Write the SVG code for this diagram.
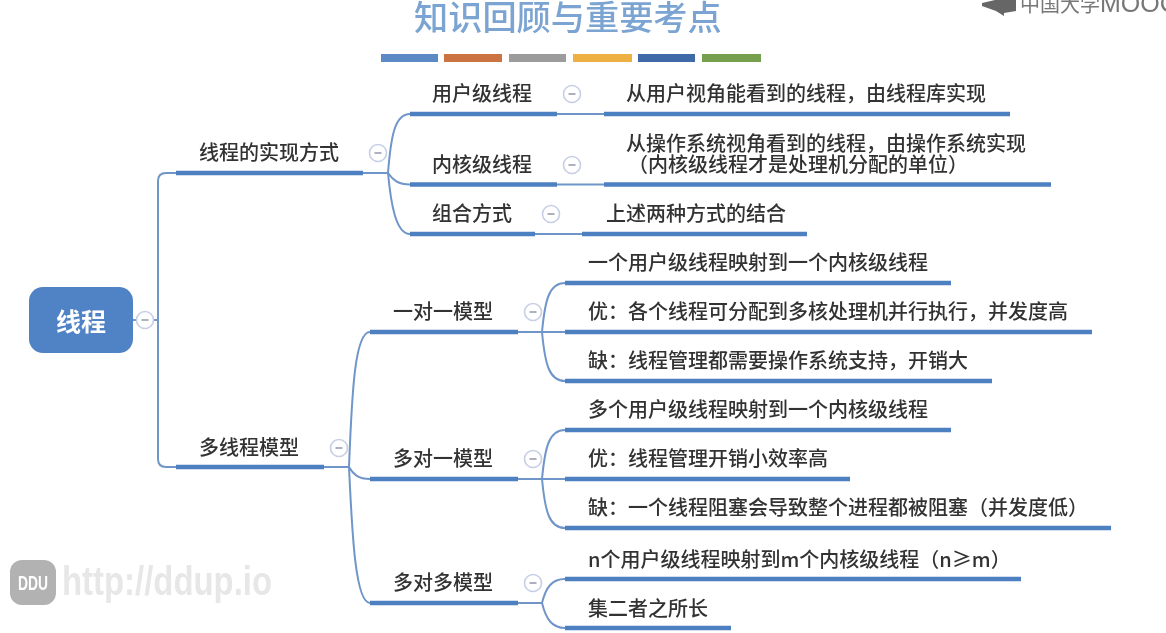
<svg xmlns="http://www.w3.org/2000/svg" width="1166" height="633" viewBox="0 0 1166 633">
<style>
text{font-family:"Noto Sans CJK SC","Liberation Sans",sans-serif;font-size:20px;fill:#333;font-weight:500}
.bar{fill:none;stroke:#4d80c0;stroke-width:4.5}
.line{fill:none;stroke:#6f96c9;stroke-width:2}
.btn circle{fill:#fff;stroke:#c6cfe6;stroke-width:1.6}
.btn line{stroke:#a4a9b8;stroke-width:1.8}
.hd{stroke-width:8;fill:none}
</style>
<defs>
<filter id="soft" x="-2%" y="-2%" width="104%" height="104%"><feGaussianBlur stdDeviation="0.55"/></filter>
<filter id="shadow" x="-10%" y="-100%" width="120%" height="300%"><feGaussianBlur stdDeviation="1"/></filter>
<g id="minus" class="btn"><circle r="8.5"/><line x1="-3.5" x2="3.5"/></g>
</defs>
<rect width="1166" height="633" fill="#fff"/>
<g filter="url(#soft)">
<g id="title">
<text x="414" y="30" style="font-size:34.2px;fill:#7ba4d2;font-weight:500">知识回顾与重要考点</text>
</g>
<g id="title-bars">
<path d="M381 60H438M444 60H502M509 60H566M573 60H632M638 60H695M702 60H761" fill="none" stroke="#bbb" stroke-width="8" filter="url(#shadow)"/>
<path class="hd" stroke="#5b8ac4" d="M381 58H438"/>
<path class="hd" stroke="#cc7343" d="M444 58H502"/>
<path class="hd" stroke="#9c9c9c" d="M509 58H566"/>
<path class="hd" stroke="#eeb043" d="M573 58H632"/>
<path class="hd" stroke="#3f69a8" d="M638 58H695"/>
<path class="hd" stroke="#76a04e" d="M702 58H761"/>
</g>
<g id="mooc-mark">
<path d="M982 3L995 0H1016V11L1004 13V16L996 11L982 6Z" fill="#666"/>
<text x="1020" y="12" style="font-size:20px;fill:#777;font-weight:400">中国大学<tspan style="font-size:25px;font-family:'Liberation Sans',sans-serif">MOOC</tspan></text>
</g>
<g id="watermark">
<rect x="10" y="560" width="46" height="45" rx="12" fill="#b2b2b2"/>
<text x="33" y="590" text-anchor="middle" textLength="30" lengthAdjust="spacingAndGlyphs" style="font-size:21px;fill:#fff;font-family:'Liberation Sans',sans-serif;font-weight:700">DDU</text>
<text x="62" y="595" textLength="210" lengthAdjust="spacingAndGlyphs" style="font-size:40px;fill:#e7e7e7;font-family:'Liberation Sans',sans-serif;font-weight:700">http://ddup.io</text>
</g>
<g id="connectors">
<path class="line" d="M133 320H158M158 320V181Q158 173 166 173H176M158 320V459Q158 467 166 467H176"/>
<path class="line" d="M363 173H388M388 173C391 135 395 114 410 114M388 173C393 180 398 184.500 410 184.500M388 173C391 205 396 234 410 234"/>
<path class="line" d="M557 114H604M557 184.500H604M535 234H582"/>
<path class="line" d="M324 467H349M349 467C352 390 355 332 370 332M349 467C353 474 358 479 370 479M349 467C352 530 355 603 370 603"/>
<path class="line" d="M518 332H565M542 332C545 300 549 283 565 283M542 332C545 364 549 381 565 381"/>
<path class="line" d="M518 479H565M542 479C545 447 549 430 565 430M542 479C545 511 549 528 565 528"/>
<path class="line" d="M518 603H542M542 603C546 587 552 579 565 579M542 603C546 619 552 628 565 628"/>
</g>
<g id="root"><rect x="29" y="287" width="104" height="66" rx="14" fill="#4f83c6"/><text x="81" y="331" text-anchor="middle" style="font-size:25px;fill:#fff;font-weight:700">线程</text><use href="#minus" x="145" y="320"/></g>
<g id="n-impl"><path class="bar" d="M176 173H363"/><text x="199" y="160">线程的实现方式</text><use href="#minus" x="378" y="153"/></g>
<g id="n-user"><path class="bar" d="M410 114H557"/><text x="432" y="101">用户级线程</text><use href="#minus" x="572" y="94"/></g>
<g id="n-user-d"><path class="bar" d="M604 114H1010"/><text x="626" y="101">从用户视角能看到的线程，由线程库实现</text></g>
<g id="n-kernel"><path class="bar" d="M410 184.500H557"/><text x="432" y="172">内核级线程</text><use href="#minus" x="572" y="165"/></g>
<g id="n-kernel-d"><path class="bar" d="M604 184.500H1051"/><text x="626" y="151">从操作系统视角看到的线程，由操作系统实现</text><text x="628" y="172">（内核级线程才是处理机分配的单位）</text></g>
<g id="n-combo"><path class="bar" d="M410 234H535"/><text x="432" y="221">组合方式</text><use href="#minus" x="551" y="214"/></g>
<g id="n-combo-d"><path class="bar" d="M582 234H807"/><text x="606" y="221">上述两种方式的结合</text></g>
<g id="n-multi"><path class="bar" d="M176 467H324"/><text x="199" y="455">多线程模型</text><use href="#minus" x="339" y="448"/></g>
<g id="n-11"><path class="bar" d="M370 332H518"/><text x="393" y="319">一对一模型</text><use href="#minus" x="533" y="312"/></g>
<g id="n-11-a"><path class="bar" d="M565 283H951"/><text x="588" y="270">一个用户级线程映射到一个内核级线程</text></g>
<g id="n-11-b"><path class="bar" d="M565 332H1092"/><text x="588" y="319">优：各个线程可分配到多核处理机并行执行，并发度高</text></g>
<g id="n-11-c"><path class="bar" d="M565 381H992"/><text x="588" y="368">缺：线程管理都需要操作系统支持，开销大</text></g>
<g id="n-m1"><path class="bar" d="M370 479H518"/><text x="393" y="466">多对一模型</text><use href="#minus" x="533" y="459"/></g>
<g id="n-m1-a"><path class="bar" d="M565 430H951"/><text x="588" y="417">多个用户级线程映射到一个内核级线程</text></g>
<g id="n-m1-b"><path class="bar" d="M565 479H850"/><text x="588" y="466">优：线程管理开销小效率高</text></g>
<g id="n-m1-c"><path class="bar" d="M565 528H1111"/><text x="588" y="515">缺：一个线程阻塞会导致整个进程都被阻塞（并发度低）</text></g>
<g id="n-mm"><path class="bar" d="M370 603H518"/><text x="393" y="590">多对多模型</text><use href="#minus" x="533" y="583"/></g>
<g id="n-mm-a"><path class="bar" d="M565 579H1021"/><text x="588" y="567">n个用户级线程映射到m个内核级线程（n≥m）</text></g>
<g id="n-mm-b"><path class="bar" d="M565 628H731"/><text x="588" y="616">集二者之所长</text></g>
</g>
</svg>
